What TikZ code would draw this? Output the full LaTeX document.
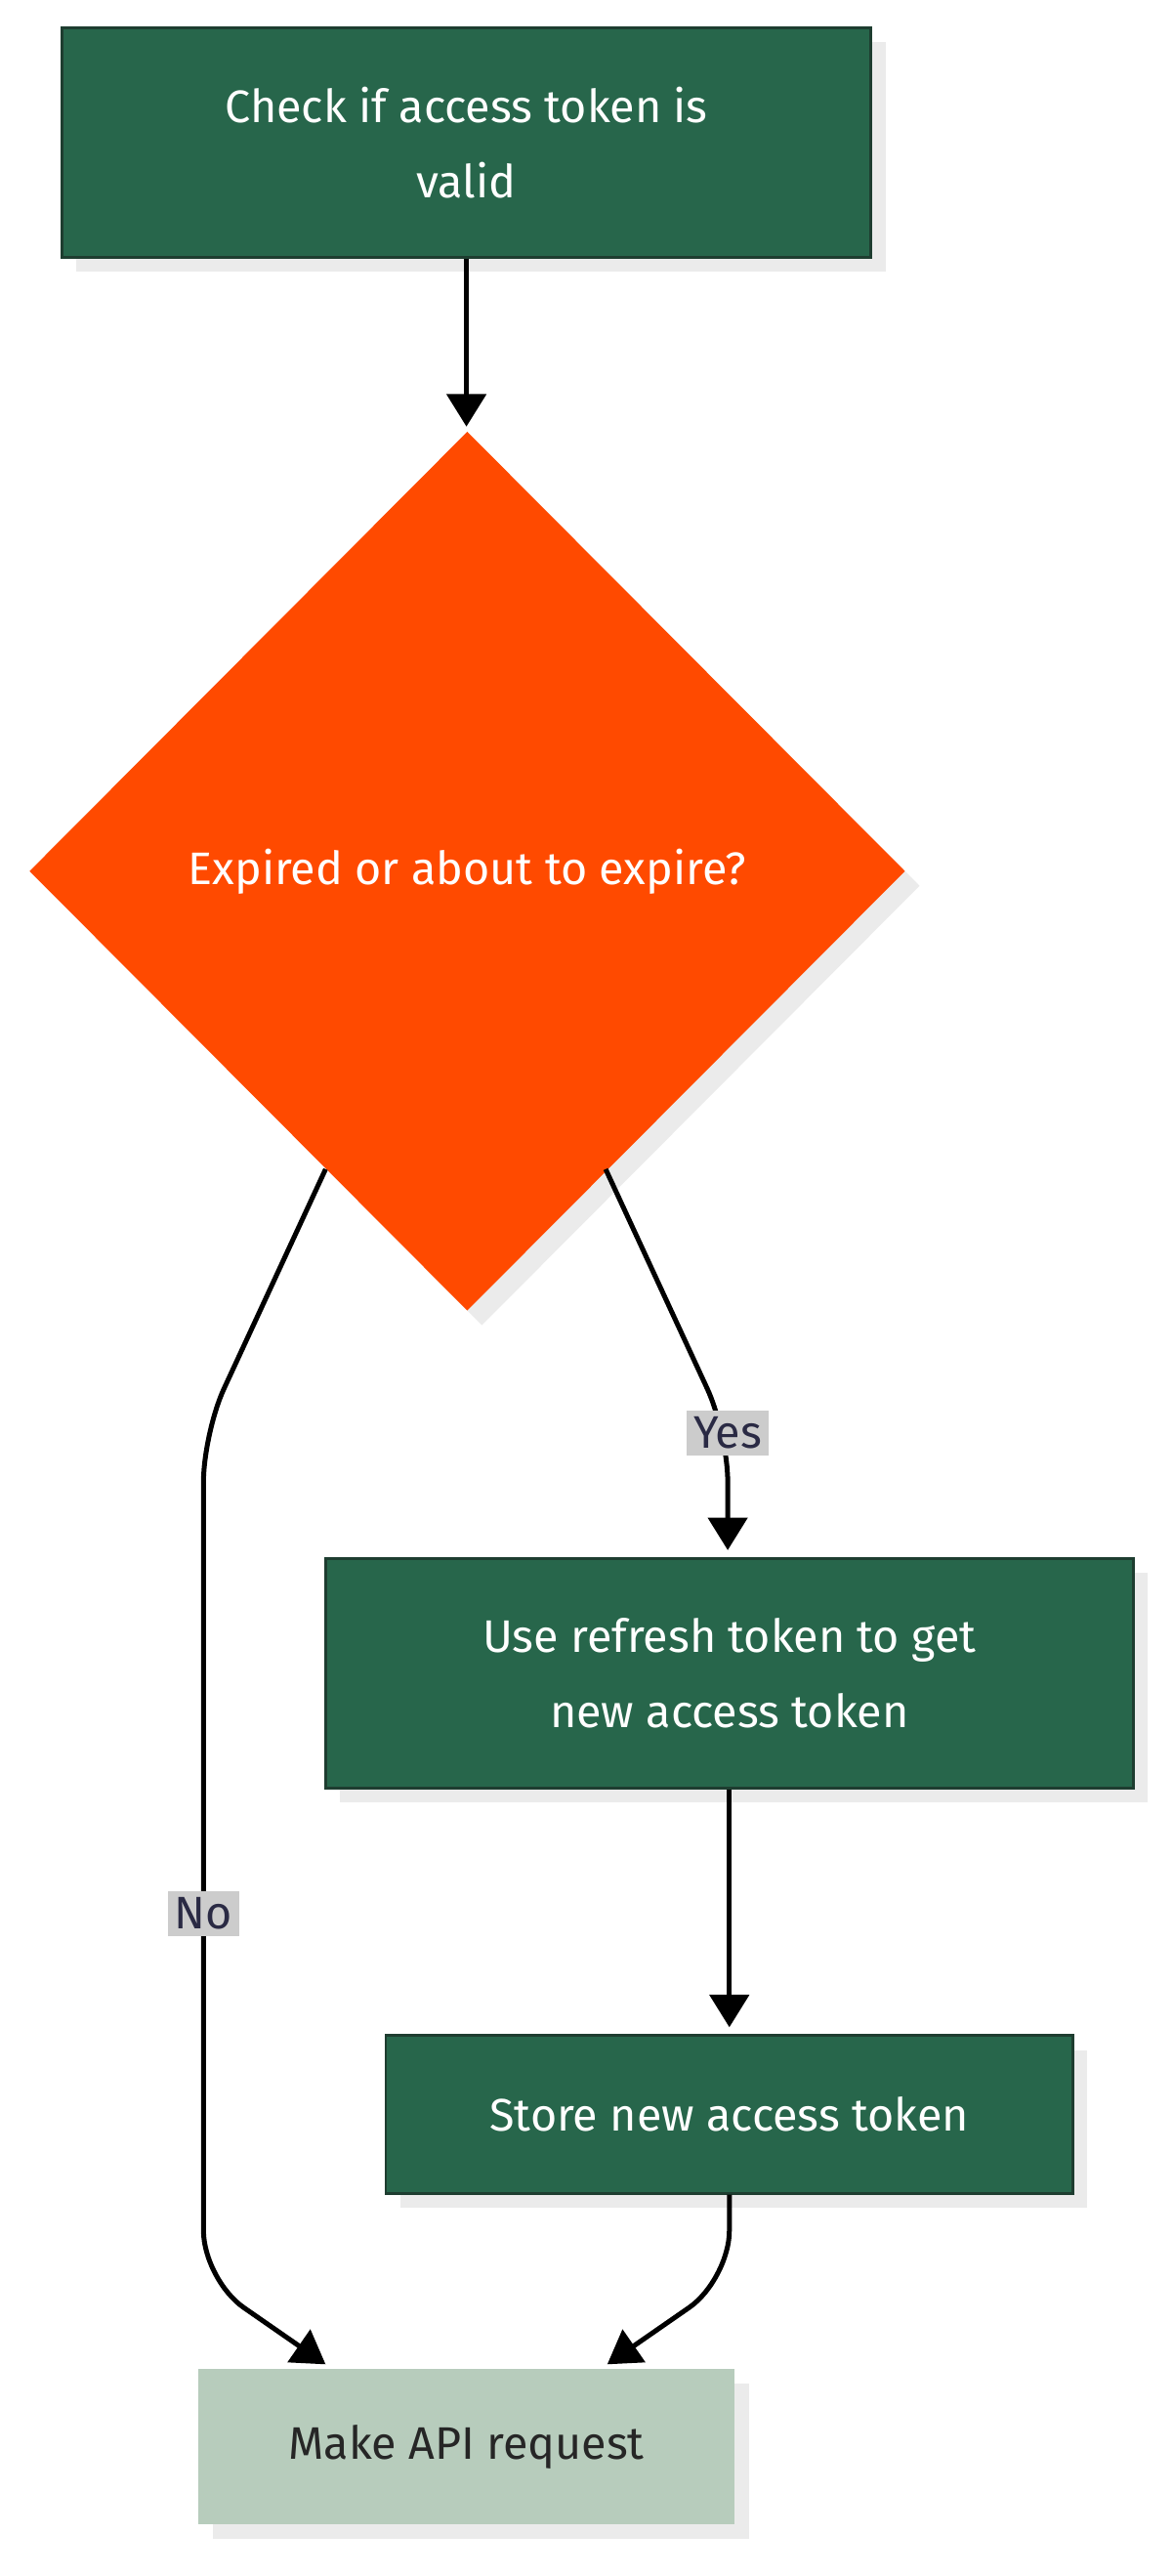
\documentclass[tikz,border=0pt]{standalone}
\usepackage{fontspec}
\setmainfont{Fira Sans}
\usepackage{xcolor}
\usetikzlibrary{shapes.geometric,arrows.meta,positioning,shadows}
\definecolor{stepgreen}{HTML}{27664B}
\definecolor{stepedge}{HTML}{1E3D30}
\definecolor{decorange}{HTML}{FF4A00}
\definecolor{endgreen}{HTML}{B7CCBC}
\definecolor{labgray}{HTML}{CCCCCC}
\definecolor{labtext}{HTML}{2A2A44}
\tikzset{
  shade/.style={drop shadow={shadow xshift=4.5pt,shadow yshift=-4.5pt,fill=black!8,opacity=1}},
  stepbox/.style={rectangle,shade,draw=stepedge,line width=0.8pt,fill=stepgreen,text=white,
    font=\fontsize{14}{23}\selectfont,align=center,inner sep=0pt},
  decision/.style={diamond,shade,fill=decorange,text=white,font=\fontsize{14}{17}\selectfont,
    inner sep=0pt,minimum width=269pt,minimum height=270pt},
  endbox/.style={rectangle,shade,fill=endgreen,text=black!85,font=\fontsize{14}{17}\selectfont,inner sep=0pt},
  edgelabel/.style={fill=labgray,text=labtext,font=\fontsize{14}{17}\selectfont,inner sep=2pt},
  flow/.style={line width=1.5pt,rounded corners=15pt,-{Triangle[length=10pt,width=12pt]}}
}
\begin{document}
\begin{tikzpicture}[x=0.5pt,y=-0.5pt]
  \useasboundingbox (0,0) rectangle (720,1582);
  % nodes
  \node[stepbox,minimum width=248.5pt,minimum height=70.5pt] (check) at (286.5,87.5)
    {Check if access token is\\valid};
  \node[decision] (expired) at (287,535) {Expired or about to expire?};
  \node[stepbox,minimum width=248pt,minimum height=70.5pt] (refresh) at (448,1027.5)
    {Use refresh token to get\\new access token};
  \node[stepbox,minimum width=211pt,minimum height=48.5pt] (store) at (448,1298.5)
    {Store new access token};
  \node[endbox,minimum width=164.5pt,minimum height=47.5pt] (api) at (286.5,1502.5)
    {Make API request};
  % waypoints
  \coordinate (yes0) at (372,718);
  \coordinate (yes1) at (447,880);
  \coordinate (no0) at (200,718);
  \coordinate (no1) at (125,880);
  \coordinate (no2) at (125,1400);
  \coordinate (st1) at (448,1400);
  \coordinate (apiL) at (200,1452);
  \coordinate (apiR) at (373,1452);
  % connectors
  \draw[flow] (check) -- (check |- 0,262);
  \draw[flow] (yes0) -- (yes1) -- (447,952);
  \node[edgelabel] (yes) at (447,880) {Yes};
  \draw[flow] (no0) -- (no1) -- (no2) -- (apiL);
  \node[edgelabel] (no) at (125,1175) {No};
  \draw[flow] (refresh) -- (448,1245);
  \draw[flow] (store.south) -- (st1) -- (apiR);
\end{tikzpicture}
\end{document}
